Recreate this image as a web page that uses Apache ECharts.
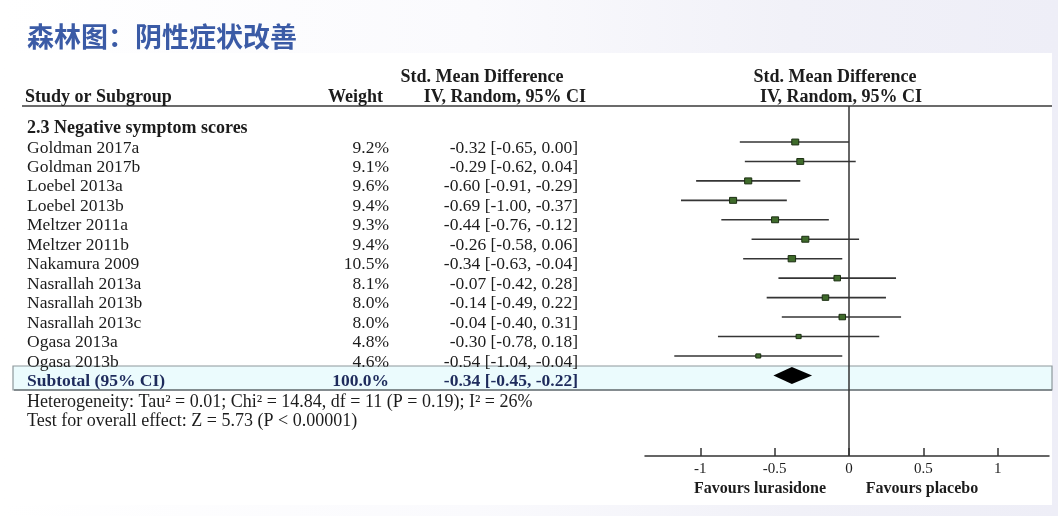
<!DOCTYPE html>
<html>
<head>
<meta charset="utf-8">
<script src="https://cdn.jsdelivr.net/npm/echarts@6/dist/echarts.min.js"></script>
<style>
  html, body { margin: 0; padding: 0; }
  body { width: 1058px; height: 516px; background: linear-gradient(90deg, #ffffff 0%, #fafafd 45%, #f1f1f8 75%, #eeeef7 100%); }
  #chart { width: 1058px; height: 516px; }
</style>
</head>
<body>
<div id="chart"></div>
<script>
// ---- data ----
const studies = ['Goldman 2017a', 'Goldman 2017b', 'Loebel 2013a', 'Loebel 2013b', 'Meltzer 2011a', 'Meltzer 2011b',
  'Nakamura 2009', 'Nasrallah 2013a', 'Nasrallah 2013b', 'Nasrallah 2013c', 'Ogasa 2013a', 'Ogasa 2013b'];
const weights = [9.2, 9.1, 9.6, 9.4, 9.3, 9.4, 10.5, 8.1, 8.0, 8.0, 4.8, 4.6];
const smd = [-0.32, -0.29, -0.60, -0.69, -0.44, -0.26, -0.34, -0.07, -0.14, -0.04, -0.30, -0.54];
const lower = [-0.65, -0.62, -0.91, -1.00, -0.76, -0.58, -0.63, -0.42, -0.49, -0.40, -0.78, -1.04];
const upper = [0.00, 0.04, -0.29, -0.37, -0.12, 0.06, -0.04, 0.28, 0.22, 0.31, 0.18, -0.04];
const subtotalLabel = 'Subtotal (95% CI)';
const subtotalWeight = 100.0;
const subtotalSmd = -0.34;
const subtotalLower = -0.45;
const subtotalUpper = -0.22;
const tickValues = [-1, -0.5, 0, 0.5, 1];
const groupTitle = '2.3 Negative symptom scores';
const heterogeneity = 'Heterogeneity: Tau² = 0.01; Chi² = 14.84, df = 11 (P = 0.19); I² = 26%';
const overallTest = 'Test for overall effect: Z = 5.73 (P < 0.00001)';
const favLeft = 'Favours lurasidone';
const favRight = 'Favours placebo';
const chartTitle = '森林图：阴性症状改善';

// ---- helpers ----
const SERIF = '"Liberation Serif", "Times New Roman", serif';
const TXT = '#1c1c1c';
const NAVY = '#1e2b5c';
const fmt2 = v => v.toFixed(2);
const ciText = (e, l, u) => fmt2(e) + ' [' + fmt2(l) + ', ' + fmt2(u) + ']';

const tableRows = studies.map((s, i) => [i, s, weights[i].toFixed(1) + '%', ciText(smd[i], lower[i], upper[i]), 0]);
tableRows.push([studies.length, subtotalLabel, subtotalWeight.toFixed(1) + '%', ciText(subtotalSmd, subtotalLower, subtotalUpper), 1]);

const forestRows = studies.map((s, i) => [i, lower[i], smd[i], upper[i], weights[i]]);

const chart = echarts.init(document.getElementById('chart'), null, { renderer: 'canvas' });

function txt(x, y, text, opts) {
  return {
    type: 'text', x: x, y: y, z: 5,
    style: Object.assign({ text: text, fill: TXT, fontFamily: SERIF, fontSize: 18, align: 'left', verticalAlign: 'middle' }, opts || {})
  };
}

const option = {
  animation: false,
  backgroundColor: 'transparent',
  grid: [
    { left: 0, top: 0, width: 1058, height: 516 },
    { left: 645, top: 106, width: 404, height: 350 }
  ],
  xAxis: [
    { gridIndex: 0, type: 'value', min: 0, max: 1058, show: false },
    {
      gridIndex: 1, type: 'value', min: -1.372, max: 1.345,
      axisLine: { onZero: false, lineStyle: { color: '#333', width: 1.5 } },
      axisTick: { inside: true, length: 8, customValues: tickValues, lineStyle: { color: '#333', width: 1.5 } },
      axisLabel: { customValues: tickValues, margin: 6, color: TXT, fontFamily: SERIF, fontSize: 15, formatter: v => String(v) },
      splitLine: { show: false }
    },
    { gridIndex: 1, type: 'value', min: -1.2143, max: 1.1905, show: false }
  ],
  yAxis: [
    { gridIndex: 0, type: 'value', inverse: true, min: -7.609, max: 18.920, show: false },
    { gridIndex: 1, type: 'value', inverse: true, min: -1.851, max: 16.144, show: false }
  ],
  graphic: [
    { type: 'rect', z: -10, shape: { x: 8, y: 53, width: 1044, height: 452 }, style: { fill: '#ffffff' } },
    { type: 'rect', z: 0, shape: { x: 13, y: 366, width: 1039, height: 24 }, style: { fill: '#ebfbfd', stroke: '#8e989c', lineWidth: 1.2 } },
    { type: 'line', z: 0, shape: { x1: 14, y1: 390, x2: 1052, y2: 390 }, style: { stroke: '#6f777b', lineWidth: 1.6 } },
    { type: 'line', z: 5, shape: { x1: 22, y1: 106, x2: 1052, y2: 106 }, style: { stroke: '#3a3a3a', lineWidth: 1.6 } },
    txt(27, 37, chartTitle, { fontFamily: '"Noto Sans CJK SC", sans-serif', fontSize: 27, fontWeight: 'bold', fill: '#3b5ba6' }),
    txt(482, 77, 'Std. Mean Difference', { fontWeight: 'bold', align: 'center' }),
    txt(25, 97, 'Study or Subgroup', { fontWeight: 'bold' }),
    txt(383, 97, 'Weight', { fontWeight: 'bold', align: 'right' }),
    txt(586, 97, 'IV, Random, 95% CI', { fontWeight: 'bold', align: 'right' }),
    txt(835, 77, 'Std. Mean Difference', { fontWeight: 'bold', align: 'center' }),
    txt(841, 97, 'IV, Random, 95% CI', { fontWeight: 'bold', align: 'center' }),
    txt(27, 402, heterogeneity, { fontSize: 18 }),
    txt(27, 421, overallTest, { fontSize: 18 }),
    txt(760, 489, favLeft, { fontWeight: 'bold', align: 'center', fontSize: 16 }),
    txt(922, 489, favRight, { fontWeight: 'bold', align: 'center', fontSize: 16 })
  ],
  series: [
    {
      type: 'custom', name: 'group', xAxisIndex: 0, yAxisIndex: 0, clip: false, silent: true,
      data: [[-1]],
      encode: { y: 0 },
      renderItem: (params, api) => {
        const p = api.coord([27, api.value(0)]);
        return { type: 'text', x: p[0], y: p[1], style: { text: groupTitle, fill: TXT, fontFamily: SERIF, fontSize: 18, fontWeight: 'bold', align: 'left', verticalAlign: 'middle' } };
      }
    },
    {
      type: 'custom', name: 'table', xAxisIndex: 0, yAxisIndex: 0, clip: false, silent: true,
      data: tableRows,
      dimensions: ['row', 'name', 'weight', 'ci', 'sub'],
      encode: { y: 0 },
      renderItem: (params, api) => {
        const r = tableRows[params.dataIndex];
        const row = r[0];
        const isSub = r[4] === 1;
        const base = { fill: isSub ? NAVY : TXT, fontFamily: SERIF, fontSize: 17.5, fontWeight: isSub ? 'bold' : 'normal', verticalAlign: 'middle' };
        const pN = api.coord([27, row]);
        const pW = api.coord([389, row]);
        const pC = api.coord([578, row]);
        return {
          type: 'group', children: [
            { type: 'text', x: pN[0], y: pN[1], style: Object.assign({ text: r[1], align: 'left' }, base) },
            { type: 'text', x: pW[0], y: pW[1], style: Object.assign({ text: r[2], align: 'right' }, base) },
            { type: 'text', x: pC[0], y: pC[1], style: Object.assign({ text: r[3], align: 'right' }, base) }
          ]
        };
      }
    },
    {
      type: 'custom', name: 'studies', xAxisIndex: 2, yAxisIndex: 1, clip: false, silent: true,
      data: forestRows,
      encode: { x: [1, 2, 3], y: 0 },
      renderItem: (params, api) => {
        const i = api.value(0);
        const pL = api.coord([api.value(1), i]);
        const pE = api.coord([api.value(2), i]);
        const pU = api.coord([api.value(3), i]);
        const s = Math.sqrt(api.value(4)) * 2.3;
        return {
          type: 'group', children: [
            { type: 'line', shape: { x1: pL[0], y1: pL[1], x2: pU[0], y2: pU[1] }, style: { stroke: '#353535', lineWidth: 1.6 } },
            { type: 'rect', shape: { x: pE[0] - s / 2, y: pE[1] - s * 0.42, width: s, height: s * 0.84 }, style: { fill: '#3f6b2b', stroke: '#1b2e12', lineWidth: 1 } }
          ]
        };
      },
      markLine: {
        silent: true, symbol: 'none', label: { show: false },
        lineStyle: { color: '#333', width: 1.5, type: 'solid' },
        data: [{ xAxis: 0 }]
      }
    },
    {
      type: 'custom', name: 'subtotal', xAxisIndex: 2, yAxisIndex: 1, clip: false, silent: true,
      data: [[studies.length, subtotalLower, subtotalSmd, subtotalUpper]],
      encode: { x: [1, 2, 3], y: 0 },
      renderItem: (params, api) => {
        const i = api.value(0);
        const pL = api.coord([api.value(1), i]);
        const pE = api.coord([api.value(2), i]);
        const pU = api.coord([api.value(3), i]);
        const h = 8.5;
        return {
          type: 'polygon',
          shape: { points: [[pL[0], pL[1]], [pE[0], pE[1] - h], [pU[0], pU[1]], [pE[0], pE[1] + h]] },
          style: { fill: '#000000' }
        };
      }
    }
  ]
};
chart.setOption(option);
</script>
</body>
</html>
